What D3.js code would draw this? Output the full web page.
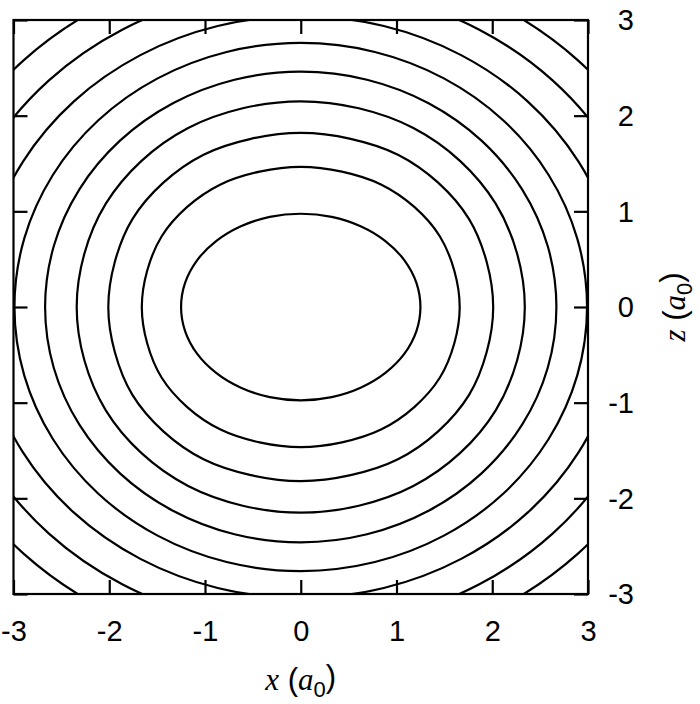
<!DOCTYPE html>
<html>
<head>
<meta charset="utf-8">
<script src="https://cdn.jsdelivr.net/npm/d3@7"></script>
<style>
  body { margin: 0; background: #fff; }
  svg { display: block; }
  text { font-family: "Liberation Sans", Arial, sans-serif; fill: #000; }
  .it { font-family: "Liberation Serif", "Times New Roman", serif; font-style: italic; }
</style>
</head>
<body>
<script>
// tick values, both axes in units of a0
var xTicks = [-3, -2, -1, 0, 1, 2, 3];
var zTicks = [-3, -2, -1, 0, 1, 2, 3];

// contour lines, first quadrant only: [x, z] from (0, b) round to (a, 0)
var level1 = [[0, 0.975], [0.324, 0.942], [0.625, 0.844], [0.884, 0.689], [1.083, 0.488], [1.208, 0.252], [1.25, 0]];
var level2 = [[0, 1.465], [0.430, 1.415], [0.838, 1.281], [1.186, 1.046], [1.452, 0.740], [1.604, 0.379], [1.66, 0]];
var level3 = [[0, 1.82], [0.521, 1.758], [1.015, 1.592], [1.435, 1.300], [1.758, 0.919], [1.942, 0.471], [2.01, 0]];
var level4 = [[0, 2.15], [0.606, 2.077], [1.176, 1.871], [1.663, 1.528], [2.036, 1.080], [2.260, 0.557], [2.34, 0]];
var level5 = [[0, 2.46], [0.692, 2.376], [1.335, 2.130], [1.888, 1.739], [2.312, 1.230], [2.579, 0.637], [2.67, 0]];
var level6 = [[0, 2.76], [0.774, 2.666], [1.495, 2.390], [2.114, 1.952], [2.589, 1.380], [2.888, 0.715], [2.99, 0]];
var level7 = [[0, 3.04], [0.868, 2.937], [1.675, 2.633], [2.369, 2.150], [2.901, 1.520], [3.236, 0.787], [3.35, 0]];
var level8 = [[0, 3.35], [0.963, 3.236], [1.860, 2.901], [2.630, 2.369], [3.222, 1.675], [3.593, 0.868], [3.72, 0]];
var level9 = [[0, 3.65], [1.059, 3.526], [2.045, 3.161], [2.892, 2.581], [3.542, 1.825], [3.951, 0.945], [4.09, 0]];

var levels = [level1, level2, level3, level4, level5, level6, level7, level8, level9];

var width = 700,
    height = 704;

var x = d3.scaleLinear().domain([-3, 3]).range([13.5, 588]);
var z = d3.scaleLinear().domain([-3, 3]).range([594, 20]);

var svg = d3.select("body").append("svg")
    .attr("width", width)
    .attr("height", height);

svg.append("defs").append("clipPath")
    .attr("id", "plot")
  .append("rect")
    .attr("x", x(-3))
    .attr("y", z(3))
    .attr("width", x(3) - x(-3))
    .attr("height", z(-3) - z(3));

// mirror a first-quadrant list into the whole closed ring
function ring(q) {
  var n = q.length;
  var lowRight = q.slice(0, n - 1).reverse().map(function(p) { return [p[0], -p[1]]; });
  var lowLeft = q.slice(1).map(function(p) { return [-p[0], -p[1]]; });
  var upLeft = q.slice(1, n - 1).reverse().map(function(p) { return [-p[0], p[1]]; });
  return q.concat(lowRight, lowLeft, upLeft);
}

var line = d3.line()
    .x(function(d) { return x(d[0]); })
    .y(function(d) { return z(d[1]); })
    .curve(d3.curveCatmullRomClosed);

svg.append("g")
    .attr("clip-path", "url(#plot)")
  .selectAll(".contour")
    .data(levels)
    .enter()
    .append("path")
    .attr("class", "contour")
    .attr("d", function(d) { return line(ring(d)); })
    .style("fill", "none")
    .style("stroke", "#000")
    .style("stroke-width", "2.2px");

// inward ticks on all four sides, labels on bottom and right
var tick = 14;
var fmt = function(d) { return String(d); };
var axBottom = d3.axisBottom(x).tickValues(xTicks).tickSizeInner(-tick).tickSizeOuter(0).tickPadding(tick + 12).tickFormat(fmt);
var axTop = d3.axisTop(x).tickValues(xTicks).tickSizeInner(-tick).tickSizeOuter(0).tickFormat("");
var axLeft = d3.axisLeft(z).tickValues(zTicks).tickSizeInner(-tick).tickSizeOuter(0).tickFormat("");
var axRight = d3.axisRight(z).tickValues(zTicks).tickSizeInner(-tick).tickSizeOuter(0).tickFormat("");

function styleAxis(g) {
  g.select(".domain").remove();
  g.selectAll(".tick line").style("stroke", "#000").style("stroke-width", "2.2px");
  g.selectAll(".tick text")
    .style("font-family", '"Liberation Sans", Arial, sans-serif')
    .style("font-size", "29px")
    .style("fill", "#000");
}

svg.append("g").attr("transform", "translate(0," + z(-3) + ")").call(axBottom).call(styleAxis);
svg.append("g").attr("transform", "translate(0," + z(3) + ")").call(axTop).call(styleAxis);
svg.append("g").attr("transform", "translate(" + x(-3) + ",0)").call(axLeft).call(styleAxis);
svg.append("g").attr("transform", "translate(" + x(3) + ",0)").call(axRight).call(styleAxis);

svg.append("g")
  .selectAll(".zlabel")
    .data(zTicks)
    .enter()
    .append("text")
    .attr("class", "zlabel")
    .attr("x", 634)
    .attr("y", function(d) { return z(d); })
    .attr("dy", "0.36em")
    .attr("text-anchor", "end")
    .style("font-size", "29px")
    .text(fmt);

svg.append("rect")
    .attr("x", x(-3))
    .attr("y", z(3))
    .attr("width", x(3) - x(-3))
    .attr("height", z(-3) - z(3))
    .style("fill", "none")
    .style("stroke", "#000")
    .style("stroke-width", "2.2px");

// axis titles
function title(t, letter) {
  t.attr("text-anchor", "middle").style("font-size", "31px");
  t.append("tspan").attr("class", "it").text(letter);
  t.append("tspan").text(" (");
  t.append("tspan").attr("class", "it").text("a");
  t.append("tspan").attr("dy", "0.3em").style("font-size", "22px").text("0");
  t.append("tspan").attr("dy", "-0.3em").text(")");
}

svg.append("text")
    .attr("x", x(0))
    .attr("y", 690)
    .call(title, "x");

svg.append("text")
    .attr("transform", "translate(685," + z(0) + ") rotate(-90)")
    .call(title, "z");
</script>
</body>
</html>
